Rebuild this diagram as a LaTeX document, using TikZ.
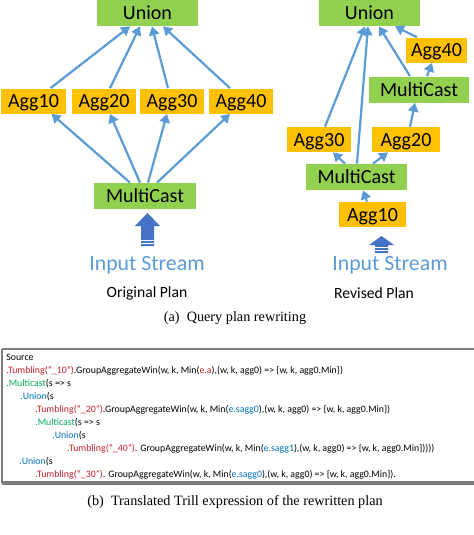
\documentclass[tikz,border=0pt]{standalone}
\usepackage{fontspec}
\newfontfamily\calibri{Carlito}
\newfontfamily\capfont{Liberation Serif}
\usepackage{xcolor}
\usepackage{tikz}
\usetikzlibrary{arrows.meta,calc,positioning}
\definecolor{opgreen}{RGB}{146,208,80}
\definecolor{aggorange}{RGB}{255,192,0}
\definecolor{flowblue}{RGB}{91,155,213}
\definecolor{streamblue}{RGB}{68,114,196}
\definecolor{codered}{RGB}{200,30,45}
\definecolor{codegreen}{RGB}{0,168,90}
\definecolor{codeblue}{RGB}{0,112,192}
\definecolor{framegray}{RGB}{125,125,125}
\newcommand{\cred}[1]{\textcolor{codered}{#1}}
\newcommand{\cgreen}[1]{\textcolor{codegreen}{#1}}
\newcommand{\cblue}[1]{\textcolor{codeblue}{#1}}

\begin{document}
\begin{tikzpicture}[x=0.02cm, y=-0.02cm,
    box/.style={inner sep=0pt, minimum height=0.52cm, text depth=0pt,
      font=\calibri\fontsize{11.4}{12}\selectfont},
    opbox/.style={box, fill=opgreen, minimum width=2.03cm},
    aggbox/.style={box, fill=aggorange, minimum width=1.3cm, minimum height=0.5cm},
    flow/.style={draw=flowblue, line width=1.25pt, -{Triangle[width=5.8pt,length=5pt]}},
    stream/.style={text=flowblue, font=\calibri\fontsize{12.4}{13}\selectfont},
    plan/.style={font=\calibri\fontsize{8.9}{10}\selectfont},
    caption/.style={font=\capfont\fontsize{8.1}{9}\selectfont},
    code/.style={anchor=base west, inner sep=0pt, font=\calibri\fontsize{5.6}{6}\selectfont}]
    \useasboundingbox (0,0) rectangle (474,535);

    % Original plan
    \node[opbox] (un) at (147.5,13) {Union};
    \foreach \n/\x in {10/33.5, 20/104, 30/172, 40/241}
      \node[aggbox] (a\n) at (\x,101) {Agg\n};
    \node[opbox] (mcL) at (145,196) {MultiCast};
    \node[stream] (inL) at (147,265) {Input Stream};
    \node[plan] (orig) at (147,293) {Original Plan};

    \foreach \n/\s/\t in {10/17/-17.5, 20/6/-7.5, 30/-4/4.5, 40/-11/15.5}
      \draw[flow] ($(a\n.north)+(\s,0)$) -- ($(un.south)+(\t,0)$);
    \foreach \n/\s/\t in {10/-15/18, 20/-5/6, 30/3/-5, 40/12/-11}
      \draw[flow] ($(mcL.north)+(\s,0)$) -- ($(a\n.south)+(\t,0)$);

    % Revised plan
    \node[opbox] (un2) at (369.5,13) {Union};
    \node[aggbox, minimum width=1.22cm] (r40) at (436.5,50) {Agg40};
    \node[opbox, minimum width=2cm] (mcU) at (419,89.5) {MultiCast};
    \node[aggbox] (r30) at (319,139.5) {Agg30};
    \node[aggbox, minimum width=1.36cm] (r20) at (406,139.5) {Agg20};
    \node[opbox] (mcD) at (356.5,177) {MultiCast};
    \node[aggbox, minimum width=1.34cm] (r10) at (372.5,214.5) {Agg10};
    \node[stream] (inR) at (390,265) {Input Stream};
    \node[plan] (rev) at (374,293) {Revised Plan};

    \draw[flow] ($(r10.north)+(-5.5,0)$) -- ($(mcD.south)+(6.5,0)$);
    \draw[flow] ($(mcD.north)+(-11.5,0)$) -- ($(r30.south)+(14,0)$);
    \draw[flow] ($(mcD.north)+(16.5,0)$) -- ($(r20.south)+(-18,0)$);
    \draw[flow] ($(mcD.north)+(0.5,0)$) -- ($(un2.south)+(-1.5,0)$);
    \draw[flow] ($(r30.north)+(6,0)$) -- ($(un2.south)+(-4.5,0)$);
    \draw[flow] ($(mcU.north)+(-9,0)$) -- ($(un2.south)+(9.5,0)$);
    \draw[flow] ($(r20.north)+(4,0)$) -- ($(mcU.south)+(-4,0)$);
    \draw[flow] ($(mcU.north)+(8,0)$) -- ($(r40.south)+(-4.5,0)$);
    \draw[flow] ($(r40.north)+(-19.5,0)$) -- ($(un2.south)+(25.5,0)$);

    % Block arrows from the input streams
    \foreach \cx/\tp/\nk/\bt in {147.5/213/226/246, 381.5/236/245/253} {
      \fill[streamblue] (\cx,\tp) -- (\cx+12.5,\nk) -- (\cx+6.5,\nk) -- (\cx+6.5,\bt)
        -- (\cx-6.5,\bt) -- (\cx-6.5,\nk) -- (\cx-12.5,\nk) -- cycle;
      \draw[white, line width=0.4pt] (\cx-6.5,\bt-6) -- (\cx+6.5,\bt-6);
      \draw[white, line width=0.4pt] (\cx-6.5,\bt-3) -- (\cx+6.5,\bt-3);
    }

    \node[caption] (capa) at (235,318) {(a)\ \ Query plan rewriting};

    % Trill expression
    \draw[framegray, line width=1.2pt] (2,349) -- (476,349);
    \draw[framegray, line width=0.8pt] (2,349) -- (2,483);
    \draw[framegray, line width=1.8pt] (2,483) -- (476,483);
    \node[code] (l1) at (6,360) {Source};
    \node[code] (l2) at (6,373) {\cred{.Tumbling(“\_10”)}.GroupAggregateWin(w, k, Min(\cred{e.a}),(w, k, agg0) => \{w, k, agg0.Min\})};
    \node[code] (l3) at (6,386) {\cgreen{.Multicast}(s => s};
    \node[code] (l4) at (20,399) {\cblue{.Union}(s};
    \node[code] (l5) at (35,412) {\cred{.Tumbling(“\_20”)}.GroupAggregateWin(w, k, Min(\cblue{e.sagg0}),(w, k, agg0) => \{w, k, agg0.Min\})};
    \node[code] (l6) at (35,425) {\cgreen{.Multicast}(s => s};
    \node[code] (l7) at (52,438) {\cblue{.Union}(s};
    \node[code] (l8) at (67,451) {\cred{.Tumbling(“\_40”)}. GroupAggregateWin(w, k, Min(\cblue{e.sagg1}),(w, k, agg0) => \{w, k, agg0.Min\}))))};
    \node[code] (l9) at (19,464) {\cblue{.Union}(s};
    \node[code] (l10) at (35,477) {\cred{.Tumbling(“\_30”)}. GroupAggregateWin(w, k, Min(\cblue{e.sagg0}),(w, k, agg0) => \{w, k, agg0.Min\}).};

    \node[caption] (capb) at (235,502) {(b)\ \ Translated Trill expression of the rewritten plan};
\end{tikzpicture}
\end{document}
